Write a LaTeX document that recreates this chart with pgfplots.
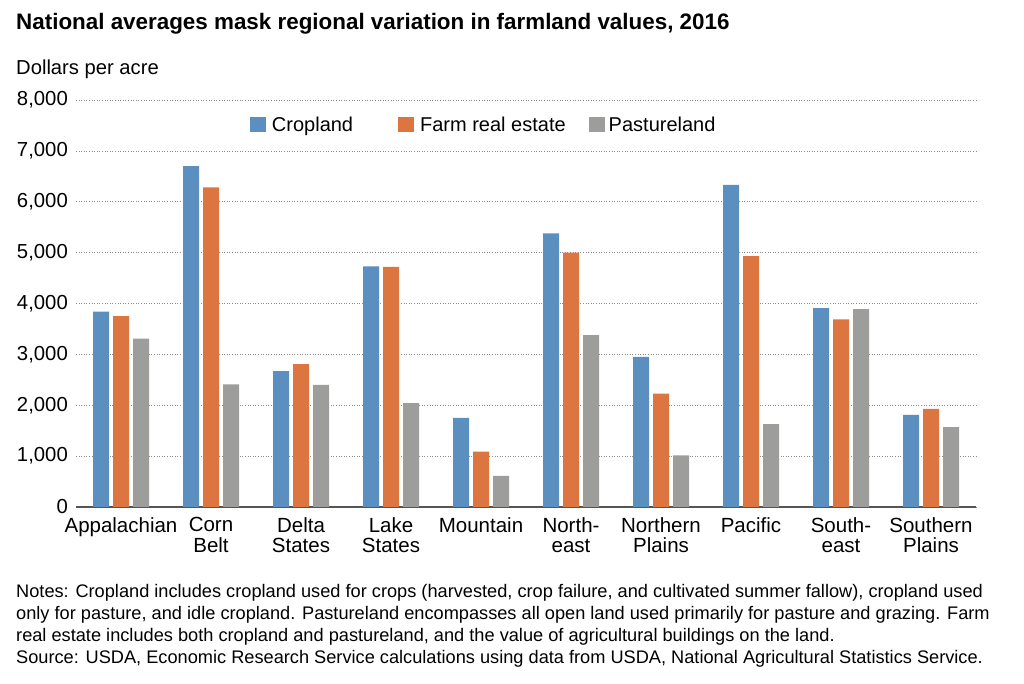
\documentclass[border=0pt]{standalone}
\usepackage{fontspec}
\setmainfont{Liberation Sans}
\usepackage{pgfplots}
\pgfplotsset{compat=1.18}
\definecolor{cblue}{HTML}{5B8FC0}
\definecolor{corange}{HTML}{DD7540}
\definecolor{cgray}{HTML}{9D9D9C}
\definecolor{gridc}{HTML}{8C8C8C}
\definecolor{axc}{HTML}{555555}
\begin{document}
\begin{tikzpicture}[x=1pt,y=1pt]
\path[use as bounding box] (0,0) rectangle (1024,684);
\node[anchor=base west, inner sep=0pt, font=\fontsize{22.4}{26}\selectfont\bfseries] at (16,654) {National averages mask regional variation in farmland values, 2016};
\node[anchor=base west, inner sep=0pt, font=\fontsize{20.2}{23}\selectfont] at (16,609) {Dollars per acre};
\begin{axis}[
  at={(76pt,177pt)}, anchor=south west, scale only axis, width=900pt, height=407pt,
  xmin=-0.5, xmax=9.5, ymin=0, ymax=8000,
  ybar, bar width=16pt,
  axis x line*=bottom, axis y line*=left,
  y axis line style={draw=none},
  x axis line style={draw=axc, line width=1.2pt, -},
  ymajorgrids, grid style={dash pattern=on 1pt off 1.6pt, gridc, line width=0.7pt},
  major tick length=0pt,
  ytick={0,1000,...,8000},
  /pgf/number format/.cd, 1000 sep={,}, assume math mode=true, /pgfplots/.cd,
  yticklabel style={anchor=east, inner sep=0pt, xshift=-8pt, font=\fontsize{20.3}{23}\selectfont},
  xtick={0,...,9},
  xticklabels={Appalachian, Corn\\Belt, Delta\\States, Lake\\States, Mountain, North-\\east, Northern\\Plains, Pacific, South-\\east, Southern\\Plains},
  xticklabel style={anchor=north, align=center, inner sep=0pt, yshift=-10pt, font=\fontsize{20.5}{20.5}\selectfont},
  legend style={draw=none, fill=none, at={(0.1933,0.9386)}, anchor=west, inner sep=0pt, outer sep=0pt,
    font=\fontsize{20}{23}\selectfont, nodes={inner sep=0pt},
    /tikz/column 1/.style={column sep=6pt}, /tikz/column 2/.style={column sep=45pt},
    /tikz/column 3/.style={column sep=6pt}, /tikz/column 4/.style={column sep=23pt},
    /tikz/column 5/.style={column sep=4pt}},
  legend columns=3,
  legend image code/.code={\fill[#1, draw=none] (0pt,-7.5pt) rectangle (16pt,7.5pt);},
]
\addplot[fill=cblue, draw=none, bar shift=-20pt] coordinates {(0,3840) (1,6700) (2,2670) (3,4730) (4,1750) (5,5380) (6,2950) (7,6330) (8,3910) (9,1810)};
\addplot[fill=corange, draw=none, bar shift=0pt] coordinates {(0,3750) (1,6280) (2,2810) (3,4720) (4,1090) (5,5000) (6,2230) (7,4930) (8,3690) (9,1930)};
\addplot[fill=cgray, draw=none, bar shift=20pt] coordinates {(0,3310) (1,2410) (2,2400) (3,2040) (4,610) (5,3380) (6,1015) (7,1630) (8,3890) (9,1570)};
\legend{Cropland, Farm real estate, Pastureland}
\end{axis}
\node[anchor=base west, inner sep=0pt, align=left, font=\fontsize{18.2}{22.3}\selectfont] at (16,20) {Notes: Cropland includes cropland used for crops (harvested, crop failure, and cultivated summer fallow), cropland used\\only for pasture, and idle cropland. Pastureland encompasses all open land used primarily for pasture and grazing. Farm\\real estate includes both cropland and pastureland, and the value of agricultural buildings on the land.\\Source: USDA, Economic Research Service calculations using data from USDA, National Agricultural Statistics Service.};
\end{tikzpicture}
\end{document}
